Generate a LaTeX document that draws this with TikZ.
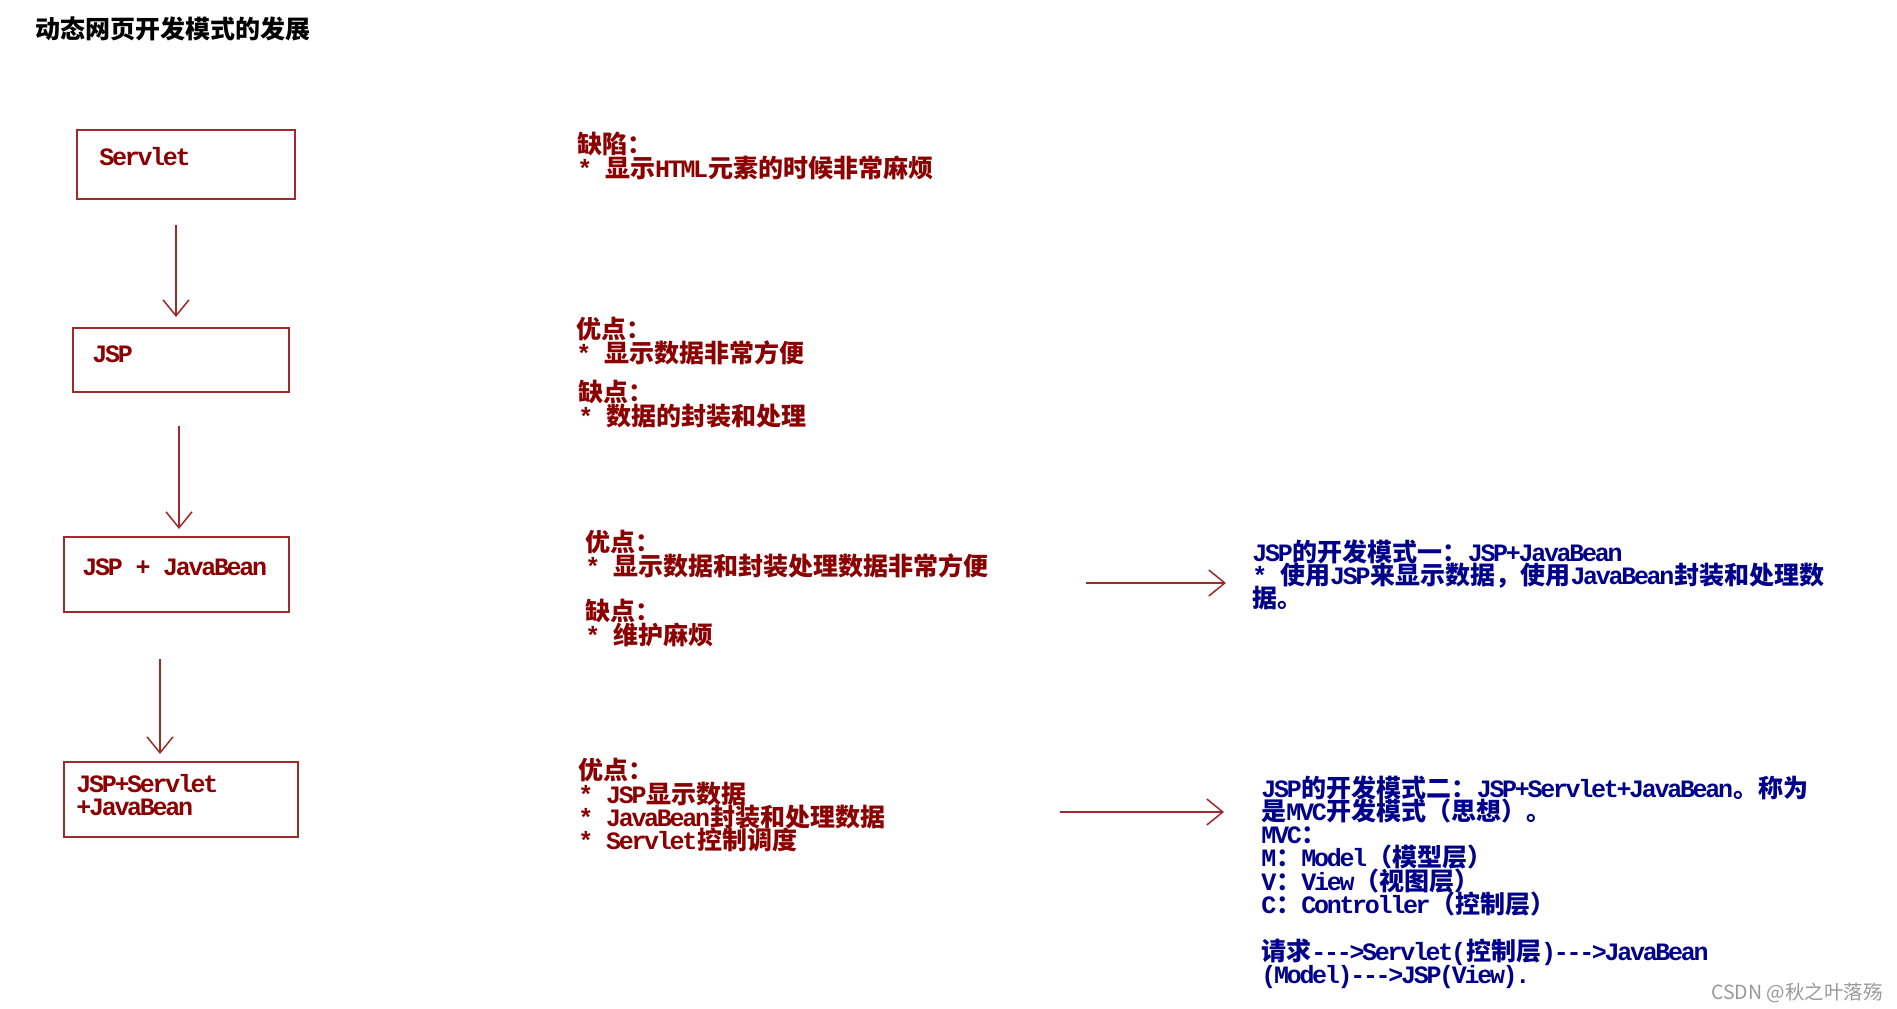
\documentclass[tikz,border=0pt]{standalone}
\usepackage{fontspec}
\usetikzlibrary{arrows.meta}
\newfontfamily\cjk{Noto Sans CJK SC}
\newfontfamily\latin{Liberation Mono}[LetterSpace=-9.2]
\newcommand\zh[1]{{\cjk #1}}
\newcommand\notefont{\latin\bfseries\fontsize{12.5pt}{11.65pt}\selectfont\lineskiplimit=-100pt\relax}
\definecolor{boxred}{HTML}{9E2A2B}
\definecolor{notered}{HTML}{8B0000}
\definecolor{mvcblue}{HTML}{00008B}

\begin{document}
\begin{tikzpicture}[x=0.5pt, y=-0.5pt,
  box/.style={draw=boxred, line width=1pt, inner sep=0pt, outer sep=0pt},
  lbl/.style={font=\notefont, text=notered, inner sep=0pt, anchor=west, align=left},
  note/.style={font=\notefont, text=notered, inner sep=0pt, anchor=north west, align=left},
  mvc/.style={note, text=mvcblue},
  flow/.style={draw=boxred, line width=0.75pt, -{Straight Barb[length=8pt,width=13pt]}}]
	\useasboundingbox (0,0) rectangle (1897,1008);
	\fill[white] (0,0) rectangle (1897,1008);
	\node[anchor=west, inner sep=0pt, font=\cjk\bfseries\fontsize{12.5pt}{14pt}\selectfont] (title) at (35,29) {动态网页开发模式的发展};
	% stages
	\node[box, minimum width=109pt, minimum height=34.5pt] (b1) at (186,164.5) {};
	\node[lbl] (l1) at (99,157) {Servlet};
	\node[box, minimum width=108pt, minimum height=32pt] (b2) at (181,360) {};
	\node[lbl] (l2) at (92,354) {JSP};
	\node[box, minimum width=112.5pt, minimum height=37.5pt] (b3) at (176.5,574.5) {};
	\node[lbl] (l3) at (82,567) {JSP + JavaBean};
	\node[box, minimum width=117pt, minimum height=37.5pt] (b4) at (181,799.5) {};
	\node[lbl] (l4) at (76,795) {JSP+Servlet\\+JavaBean};
	\draw[flow, shorten <=13pt, shorten >=5.5pt] ([xshift=-5pt]b1.south) -- ([xshift=-5pt]b1.south |- b2.north);
	\draw[flow, shorten <=17pt, shorten >=4pt] ([xshift=-1pt]b2.south) -- ([xshift=-1pt]b2.south |- b3.north);
	\draw[flow, shorten <=23.5pt, shorten >=4pt] ([xshift=-8.25pt]b3.south) -- ([xshift=-8.25pt]b3.south |- b4.north);
	% notes
	\node[note] (n1) at (577,132) {\zh{缺陷：}\\* \zh{显示}HTML\zh{元素的时候非常麻烦}};
	\node[note] (n2a) at (576,317) {\zh{优点：}\\* \zh{显示数据非常方便}};
	\node[note] (n2b) at (578,380) {\zh{缺点：}\\* \zh{数据的封装和处理}};
	\node[note] (n3a) at (585,530) {\zh{优点：}\\* \zh{显示数据和封装处理数据非常方便}};
	\node[note] (n3b) at (585,599) {\zh{缺点：}\\* \zh{维护麻烦}};
	\node[note] (n4) at (578,758) {\zh{优点：}\\* JSP\zh{显示数据}\\* JavaBean\zh{封装和处理数据}\\* Servlet\zh{控制调度}};
	% modes
	\coordinate (h1s) at (1086,583);
	\coordinate (h1e) at (1226,583);
	\coordinate (h2s) at (1060,812);
	\coordinate (h2e) at (1224,812);
	\draw[flow] (h1s) -- (h1e);
	\draw[flow] (h2s) -- (h2e);
	\node[mvc] (m1) at (1252,539) {JSP\zh{的开发模式一：}JSP+JavaBean\\* \zh{使用}JSP\zh{来显示数据，使用}JavaBean\zh{封装和处理数}\\\zh{据。}};
	\node[mvc] (m2) at (1261,775) {JSP\zh{的开发模式二：}JSP+Servlet+JavaBean\zh{。称为}\\\zh{是}MVC\zh{开发模式（思想）。}\\MVC\zh{：}\\M\zh{：}Model\zh{（模型层）}\\V\zh{：}View\zh{（视图层）}\\C\zh{：}Controller\zh{（控制层）}\\[11.65pt]\zh{请求}--->Servlet(\zh{控制层})--->JavaBean\\(Model)--->JSP(View).};
	\node[anchor=west, inner sep=0pt, text=black!40, font=\cjk\fontsize{9.75pt}{12pt}\selectfont] (mark) at (1711,993) {CSDN @秋之叶落殇};
\end{tikzpicture}
\end{document}
